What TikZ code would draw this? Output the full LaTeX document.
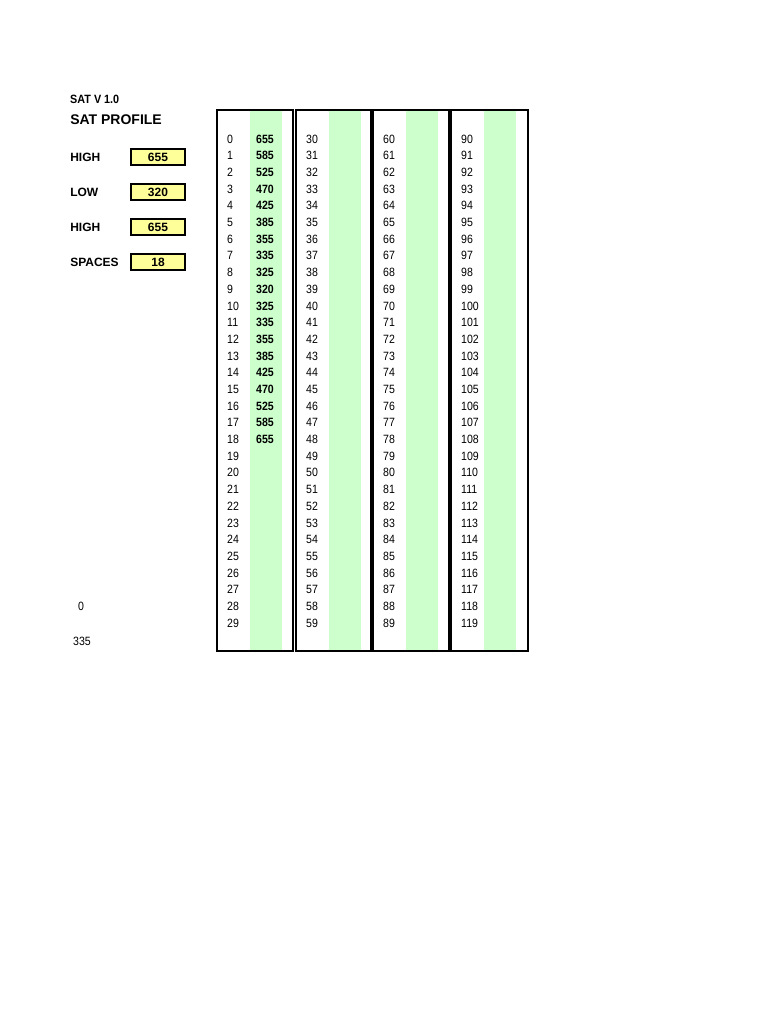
\documentclass[tikz,border=0pt]{standalone}
\usepackage{fontspec}
\setmainfont{Liberation Sans}
\definecolor{lgreen}{RGB}{204,255,204}
\definecolor{lyellow}{RGB}{255,255,153}
\begin{document}
\begin{tikzpicture}[x=0.75pt,y=-0.75pt,
  num/.style={inner sep=0,font=\fontsize{9}{10}\selectfont,xscale=0.88},
  val/.style={num,font=\fontsize{9}{10}\selectfont\bfseries},
  lab/.style={inner sep=0,anchor=west,font=\fontsize{9}{10}\selectfont\bfseries},
  ybox/.style={draw,line width=1.3pt,fill=lyellow,minimum width=40pt,minimum height=12.5pt,inner sep=0,font=\fontsize{9}{10}\selectfont\bfseries},
  panel/.style={draw,line width=2pt}]
\useasboundingbox (0,0) rectangle (768,1024);
\fill[white] (0,0) rectangle (768,1024);
\node[lab,xscale=0.9,transform shape=false] (t1) at (70,99) {SAT V 1.0};
\node[lab,font=\fontsize{10.5}{12}\selectfont\bfseries] (t2) at (70,120) {SAT PROFILE};
\foreach \l/\v/\y/\n in {HIGH/655/157/a,LOW/320/192/b,HIGH/655/227/c,SPACES/18/262/d}{
  \node[lab] (l\n) at (70,\y) {\l};
  \node[ybox] (b\n) at (158,\y) {\v};
}
\node[num,anchor=west] (z0) at (78,606) {0};
\node[num,anchor=west] (z1) at (73,641) {335};
\foreach \i/\xl/\xr in {0/217/293,1/296/371,2/373/449,3/451/528}{
  \fill[lgreen] (\xl+33,111) rectangle (\xl+65,650);
}
\foreach \i/\xl/\xr in {0/217/293,1/296/371,2/373/449,3/451/528}{
  \draw[panel] (\xl,110) rectangle (\xr,651);
  \foreach \r in {0,...,29}{
    \pgfmathtruncatemacro{\k}{\i*30+\r}
    \node[num,anchor=west] (n\k) at (\xl+10,139+\r*16.69) {\k};
  }
}
\foreach \v [count=\r from 0] in {655,585,525,470,425,385,355,335,325,320,325,335,355,385,425,470,525,585,655}{
  \node[val] (v\r) at (265,139+\r*16.69) {\v};
}
\end{tikzpicture}
\end{document}
